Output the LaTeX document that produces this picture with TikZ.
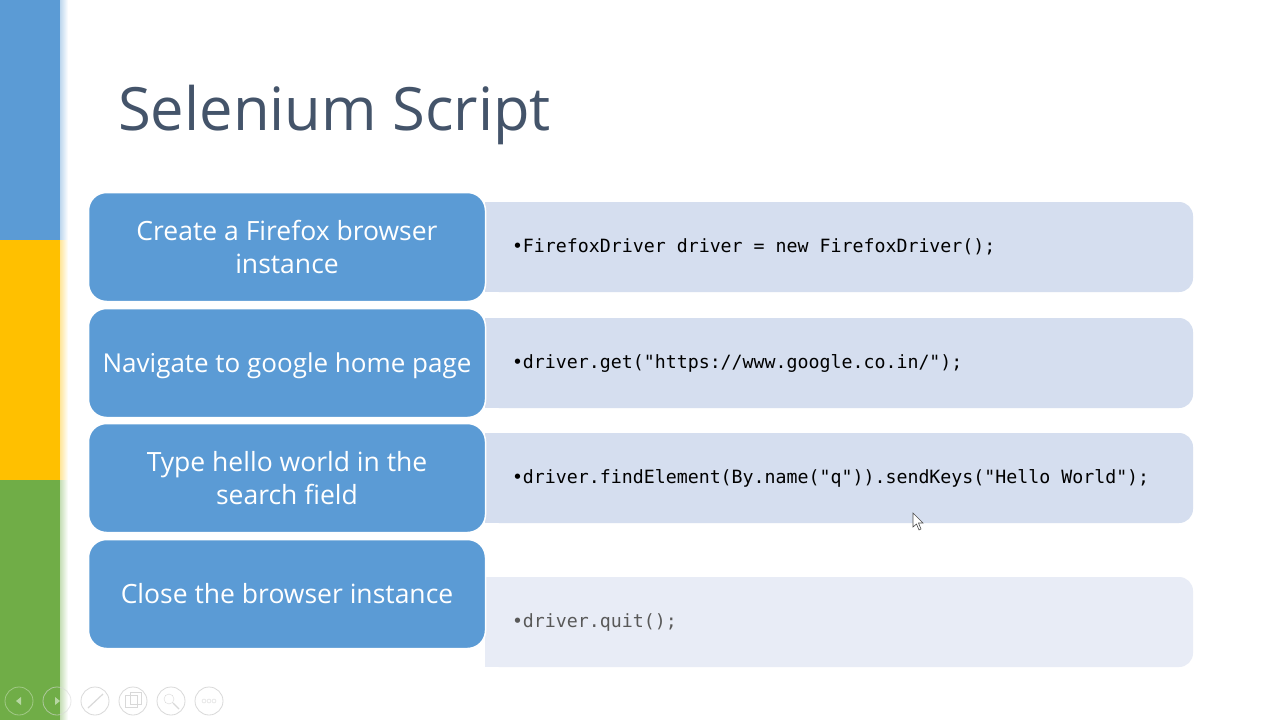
\documentclass[tikz,border=0pt]{standalone}
\usepackage{fontspec}
\setmainfont{Open Sans}
\newfontfamily\codefont{DejaVu Sans Mono}
\newcommand{\codeline}[1]{{\codefont\fontsize{18.25}{22}\selectfont\spaceskip=.602em\xspaceskip=.602em\relax #1}}
\definecolor{slideblue}{HTML}{5B9BD5}
\definecolor{slideyellow}{HTML}{FFC000}
\definecolor{slidegreen}{HTML}{70AD47}
\definecolor{titlegray}{HTML}{44546A}
\definecolor{codeback}{HTML}{D5DEEF}
\definecolor{fadeback}{HTML}{E8ECF6}
\definecolor{toolgray}{HTML}{D9D9D9}
\tikzset{
  stepbox/.style={rectangle, fill=slideblue, draw=white, line width=1.5pt, rounded corners=18pt,
    minimum width=397pt, minimum height=109pt, text=white, align=center,
    font=\fontsize{26.5}{33}\selectfont},
  codebox/.style={rectangle, fill=#1, rounded corners=14pt, minimum width=708pt, minimum height=90pt},
  toolbtn/.style={circle, draw=toolgray, line width=.8pt, minimum size=28pt, inner sep=0pt}
}
\begin{document}
\begin{tikzpicture}[x=1pt,y=-1pt]
  \useasboundingbox (0,0) rectangle (1280,720);
  \fill[white] (0,0) rectangle (1280,720);

  % side bands
  \fill[slideblue] (0,0) rectangle (60,240);
  \fill[slideyellow] (0,240) rectangle (60,480);
  \fill[slidegreen] (0,480) rectangle (60,720);
  \shade[left color=slideblue!40, right color=white] (60,0) rectangle (68,240);
  \shade[left color=slideyellow!40, right color=white] (60,240) rectangle (68,480);
  \shade[left color=slidegreen!40, right color=white] (60,480) rectangle (68,720);

  \node[anchor=base west, inner sep=0pt, text=titlegray, font=\fontsize{59.7}{62}\selectfont] (title) at (118,130) {Selenium Script};

  % code lines
  \node[codebox=codeback] (code1) at (839,247) {};
  \node[codebox=codeback] (code2) at (839,363) {};
  \node[codebox=codeback] (code3) at (839,478) {};
  \node[codebox=fadeback] (code4) at (839,622) {};
  \foreach \codename in {code1,code2,code3}
    \fill[codeback] (\codename.north west) rectangle ([xshift=20pt]\codename.south west);
  \fill[fadeback] (code4.north west) rectangle ([xshift=20pt]code4.south west);
  \begin{scope}[every node/.style={anchor=west, inner sep=0pt}]
    \node (text1) at ([xshift=27pt]code1.west) {\codeline{•FirefoxDriver driver = new FirefoxDriver();}};
    \node (text2) at ([xshift=27pt]code2.west) {\codeline{•driver.get("https://www.google.co.in/");}};
    \node (text3) at ([xshift=27pt]code3.west) {\codeline{•driver.findElement(By.name("q")).sendKeys("Hello World");}};
    \node[text=black!65] (text4) at ([xshift=27pt]code4.west) {\codeline{•driver.quit();}};
  \end{scope}

  % steps
  \node[stepbox] (step1) at (287,247) {Create a Firefox browser\\instance};
  \node[stepbox, font=\fontsize{26}{33}\selectfont] (step2) at (287,363) {\rule{0pt}{25pt}Navigate to google home page};
  \node[stepbox] (step3) at (287,478) {Type hello world in the\\search field};
  \node[stepbox] (step4) at (287,594) {Close the browser instance};

  % toolbar
  \node[toolbtn, draw=white, opacity=.35] (prev) at (19,701) {};
  \node[toolbtn, opacity=.6] (next) at (57,701) {};
  \node[toolbtn] (pen) at (95,701) {};
  \node[toolbtn] (pages) at (133,701) {};
  \node[toolbtn] (zoom) at (171,701) {};
  \node[toolbtn] (more) at (209,701) {};
  \fill[white, opacity=.5] (16,701) -- (21,697) -- (21,705) -- cycle;
  \fill[white, opacity=.5] (60,701) -- (55,697) -- (55,705) -- cycle;
  \draw[toolgray, line width=1.2pt] (88,708) -- (103,694);
  \draw[toolgray] (125,695) rectangle (137,707) (130,692) rectangle (141,704);
  \draw[toolgray] (169,699) circle (5pt);
  \draw[toolgray, line width=1.2pt] (173,703) -- (179,709);
  \foreach \dotx in {204,209,214} \draw[toolgray] (\dotx,701) circle (2pt);

  % pointer
  \draw[fill=white, draw=black!70, line width=.6pt] (913,513) -- (913,527) -- (916.5,524) -- (919,530) -- (921,529) -- (918.5,523) -- (923,523) -- cycle;
\end{tikzpicture}
\end{document}
